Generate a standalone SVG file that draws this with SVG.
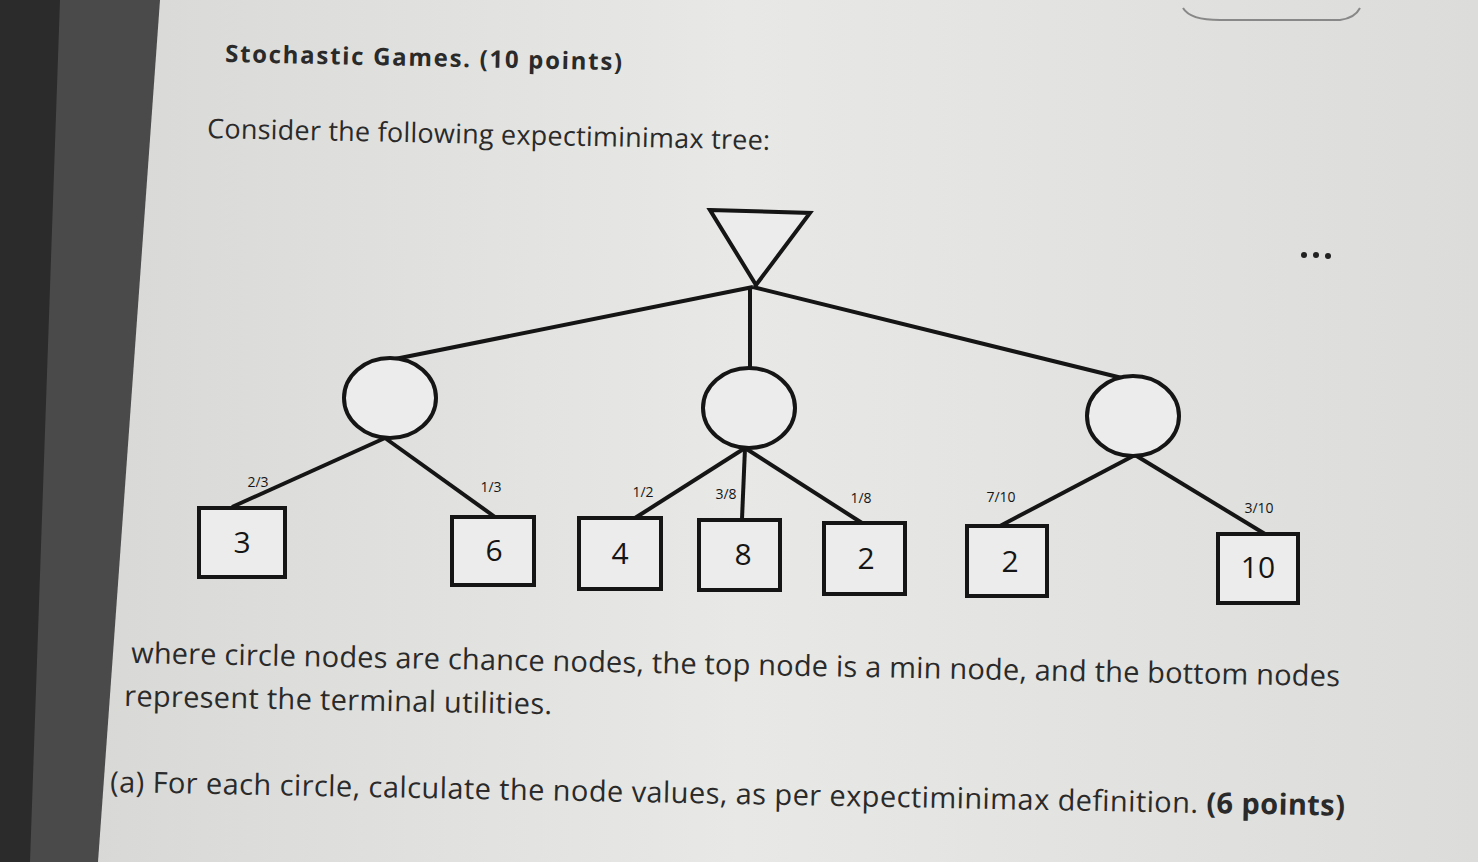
<svg xmlns="http://www.w3.org/2000/svg" width="1478" height="862" viewBox="0 0 1478 862">
<style>
.t{font-family:"Open Sans","Liberation Sans",sans-serif;fill:#2a2a2a}
.e{fill:none;stroke:#151515;stroke-width:4}
.n{fill:#ececec;stroke:#151515;stroke-width:4}
.v{font-family:"Open Sans","Liberation Sans",sans-serif;font-size:30px;fill:#151515;text-anchor:middle}
.p{font-family:"Open Sans","Liberation Sans",sans-serif;font-size:14px;fill:#151515;text-anchor:middle}
</style>
<defs><linearGradient id="bg" x1="0" y1="0" x2="1" y2="0"><stop offset="0" stop-color="#d6d6d4"/><stop offset="0.5" stop-color="#e8e8e6"/><stop offset="1" stop-color="#dcdcda"/></linearGradient></defs>
<rect width="1478" height="862" fill="url(#bg)"/>
<polygon points="0,0 160,0 98,862 0,862" fill="#4a4a4a"/>
<polygon points="0,0 60,0 30,862 0,862" fill="#2b2b2b"/>
<path d="M1183,8 Q1190,20 1220,20 L1340,20 Q1355,18 1360,8" fill="none" stroke="#888" stroke-width="2"/>
<text class="t" x="225" y="62" font-size="24" font-weight="bold" textLength="397" transform="rotate(1.2 225 62)">Stochastic Games. (10 points)</text>
<text class="t" x="207" y="138" font-size="27" textLength="563" transform="rotate(1.2 207 138)">Consider the following expectiminimax tree:</text>
<g fill="#222"><circle cx="1304" cy="255" r="3"/><circle cx="1316" cy="255" r="3"/><circle cx="1328" cy="256" r="3"/></g>
<g id="connectors">
<line class="e" x1="753" y1="287" x2="395" y2="359"/>
<line class="e" x1="750" y1="287" x2="750" y2="368"/>
<line class="e" x1="753" y1="287" x2="1122" y2="378"/>
<line class="e" x1="385" y1="438" x2="232" y2="507"/>
<line class="e" x1="385" y1="438" x2="495" y2="517"/>
<line class="e" x1="745" y1="448" x2="635" y2="518"/>
<line class="e" x1="745" y1="448" x2="742" y2="519"/>
<line class="e" x1="745" y1="448" x2="862" y2="523"/>
<line class="e" x1="1135" y1="455" x2="1000" y2="526"/>
<line class="e" x1="1135" y1="455" x2="1265" y2="534"/>
</g>
<g>
<text class="p" x="258" y="487">2/3</text>
<text class="p" x="491" y="492">1/3</text>
<text class="p" x="643" y="497">1/2</text>
<text class="p" x="726" y="499">3/8</text>
<text class="p" x="861" y="503">1/8</text>
<text class="p" x="1001" y="502">7/10</text>
<text class="p" x="1259" y="513">3/10</text>
</g>
<g id="root"><polygon class="n" points="710,210 810,213 756,285"/></g>
<g id="c1"><ellipse class="n" cx="390" cy="398" rx="46" ry="40"/></g>
<g id="c2"><ellipse class="n" cx="749" cy="408" rx="46" ry="40"/></g>
<g id="c3"><ellipse class="n" cx="1133" cy="416" rx="46" ry="40"/></g>
<g id="l1"><rect class="n" x="199" y="508" width="86" height="69"/><text class="v" x="242" y="553">3</text></g>
<g id="l2"><rect class="n" x="452" y="517" width="82" height="68"/><text class="v" x="494" y="561">6</text></g>
<g id="l3"><rect class="n" x="579" y="518" width="82" height="71"/><text class="v" x="620" y="564">4</text></g>
<g id="l4"><rect class="n" x="699" y="520" width="81" height="70"/><text class="v" x="743" y="565">8</text></g>
<g id="l5"><rect class="n" x="824" y="523" width="81" height="71"/><text class="v" x="866" y="569">2</text></g>
<g id="l6"><rect class="n" x="967" y="526" width="80" height="70"/><text class="v" x="1010" y="572">2</text></g>
<g id="l7"><rect class="n" x="1218" y="534" width="80" height="69"/><text class="v" x="1258" y="578">10</text></g>
<text class="t" x="131" y="663" font-size="29" textLength="1209" transform="rotate(1.1 131 663)">where circle nodes are chance nodes, the top node is a min node, and the bottom nodes</text>
<text class="t" x="124" y="706" font-size="29" textLength="428" transform="rotate(1.1 124 706)">represent the terminal utilities.</text>
<text class="t" x="110" y="792" font-size="29" textLength="1235" transform="rotate(1.1 110 792)">(a) For each circle, calculate the node values, as per expectiminimax definition. <tspan font-weight="bold">(6 points)</tspan></text>
</svg>
